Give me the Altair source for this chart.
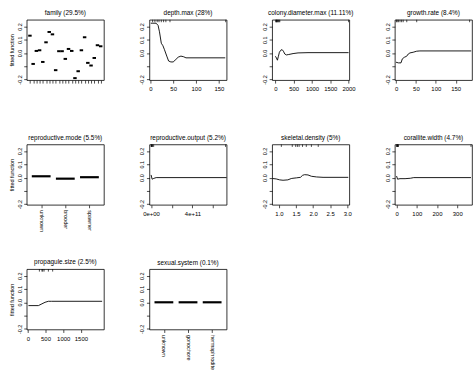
import altair as alt
import pandas as pd

FONT = "Liberation Sans"
W, H = 78, 61
YDOM = [-0.205, 0.25]
Y_TICKS = [-0.2, -0.1, 0.0, 0.1, 0.2]

# ---- data ----
family_levels = [f"family {i}" for i in range(1, 24)]
family_fit = [0.13, -0.083, 0.015, 0.02, -0.068, 0.08, 0.158, 0.14, -0.13, 0.013,
              0.013, -0.045, 0.03, 0.015, -0.19, -0.138, 0.02, 0.118, -0.075, -0.095,
              -0.038, 0.058, 0.05]

depth_x = [1, 4, 12.7, 17, 20, 24, 27.6, 31, 36, 40, 45, 50, 56, 61, 67, 73, 78, 164]
depth_y = [0.224, 0.224, 0.224, 0.207, 0.159, 0.073, 0.054, 0.024, -0.024, -0.061,
           -0.068, -0.068, -0.049, -0.032, -0.024, -0.029, -0.037, -0.037]
depth_rug = [5, 10, 15, 19, 24, 29, 34, 43, 165]

colony_x = [0, 27, 55, 82, 109, 145, 182, 218, 255, 300, 364, 482, 618, 891, 2000]
colony_y = [-0.025, -0.038, -0.055, -0.025, 0.005, 0.02, 0.025, 0.013, -0.008, -0.015,
            -0.012, -0.005, 0.0, 0.002, 0.002]
colony_rug = [10, 20, 30, 45, 60, 80, 100, 120, 2000]

growth_x = [0, 5.8, 12.5, 15.8, 20.8, 26.7, 30.8, 35, 43, 52, 60, 189]
growth_y = [-0.07, -0.075, -0.075, -0.045, -0.033, -0.025, -0.008, 0.0, 0.005, 0.013,
            0.015, 0.015]
growth_rug = [1, 3, 6, 10, 14, 18, 27, 52, 185]

mode_levels = ["unknown", "brooder", "spawner"]
mode_fit = [0.01, -0.008, 0.003]

output_x = [0, 1e10, 2.6e10, 4.9e10, 7.3e11]
output_y = [0.02, -0.012, -0.006, 0.0, 0.0]
output_rug = [1e9, 3e9, 6e9, 1e10, 1.5e10, 2.5e10, 7.2e11]

skel_x = [0.82, 0.92, 1.02, 1.12, 1.26, 1.36, 1.41, 1.51, 1.63, 1.69, 1.75, 1.85, 1.95,
          2.10, 2.29, 3.03]
skel_y = [-0.007, -0.01, -0.017, -0.02, -0.017, -0.007, -0.005, -0.002, 0.002, 0.017,
          0.022, 0.02, 0.01, 0.005, 0.002, 0.002]
skel_rug = [1.07, 1.39, 1.49, 1.54, 1.59, 1.69, 1.80, 1.95, 2.15]

coral_x = [0, 5, 17, 42, 68, 85, 368]
coral_y = [0.012, -0.012, -0.008, -0.008, -0.005, 0.0, 0.0]
coral_rug = [1, 2, 3, 5, 7, 9, 368]

prop_x = [19, 300, 375, 488, 582, 675, 2100]
prop_y = [-0.025, -0.025, -0.015, 0.0, 0.0075, 0.0075, 0.0075]
prop_rug = [328, 400, 422, 460, 582, 703]

sex_levels = ["unknown", "gonochore", "hermaphrodite"]
sex_fit = [0.0, 0.0, 0.0]


def y_enc(title):
    return alt.Y(
        "y:Q",
        scale=alt.Scale(domain=YDOM, nice=False, zero=False),
        axis=alt.Axis(
            values=Y_TICKS,
            labelExpr="datum.value > -0.15 && datum.value < -0.05 ? '' : replace(format(datum.value, '.1f'), '\u2212', '-')",
            labelAngle=270,
            labelOverlap=False,
            labelPadding=1.5,
            title=title if title else None,
        ),
    )


def ttl(text):
    return alt.TitleParams(text, fontSize=6.5, font=FONT, fontWeight="normal",
                           offset=3, color="black")


def cont_panel(title, xs, ys, rug, xdom, xticks, fmt=None, label_expr=None, ytitle=None):
    df = pd.DataFrame({"x": xs, "y": ys})
    if label_expr is None:
        label_expr = "format(datum.value, '%s')" % fmt
    xaxis = alt.Axis(values=xticks, labelOverlap=False, labelFlush=False,
                     labelExpr=label_expr, labelAngle=0, labelPadding=3,
                     labelFontSize=6)
    xscale = alt.Scale(domain=xdom, nice=False, zero=False)
    line = alt.Chart(df).mark_line(color="black", strokeWidth=0.9).encode(
        x=alt.X("x:Q", scale=xscale, axis=xaxis, title=None), y=y_enc(ytitle))
    rugc = alt.Chart(pd.DataFrame({"x": rug})).mark_rule(
        color="black", strokeWidth=0.7).encode(
        x=alt.X("x:Q", scale=xscale, axis=xaxis, title=None),
        y=alt.value(0), y2=alt.value(2.5))
    return alt.layer(line, rugc).properties(width=W, height=H, title=ttl(title))


def cat_panel(title, levels, vals, size, thick, padding, labels=True, ytitle=None):
    df = pd.DataFrame({"x": levels, "y": vals})
    return alt.Chart(df).mark_tick(color="black", size=size, thickness=thick,
                                   opacity=1).encode(
        x=alt.X("x:N", sort=levels,
                scale=alt.Scale(type="point", padding=padding),
                axis=alt.Axis(labelAngle=90, labels=labels, labelOverlap=False,
                              labelPadding=2, title=None)),
        y=y_enc(ytitle),
    ).properties(width=W, height=H, title=ttl(title))


panels = [
    cat_panel("family (29.5%)", family_levels, family_fit, 3.5, 2, 1.7,
              labels=False, ytitle="fitted function"),
    cont_panel("depth.max  (28%)", depth_x, depth_y, depth_rug, [-2, 167],
               [0, 50, 100, 150], fmt="d"),
    cont_panel("colony.diameter.max  (11.11%)", colony_x, colony_y, colony_rug,
               [-90, 2020], [0, 500, 1000, 1500, 2000], fmt="d"),
    cont_panel("growth.rate (8.4%)", growth_x, growth_y, growth_rug, [-3, 191],
               [0, 50, 100, 150], fmt="d"),
    cat_panel("reproductive.mode (5.5%)", mode_levels, mode_fit, 19, 2.2, 0.6,
              ytitle="fitted function"),
    cont_panel("reproductive.output (5.2%)", output_x, output_y, output_rug,
               [-1.6e10, 7.3e11], [0, 2e11, 4e11, 6e11],
               label_expr="datum.value == 0 ? '0e+00' : (datum.value == 4e11 ? '4e+11' : '')"),
    cont_panel("skeletal.density (5%)", skel_x, skel_y, skel_rug, [0.8, 3.06],
               [1.0, 1.5, 2.0, 2.5, 3.0], fmt=".1f"),
    cont_panel("corallite.width (4.7%)", coral_x, coral_y, coral_rug, [-8.5, 373],
               [0, 100, 200, 300], fmt="d"),
    cont_panel("propagule.size (2.5%)", prop_x, prop_y, prop_rug, [-30, 2150],
               [0, 500, 1000, 1500], fmt="d", ytitle="fitted function"),
    cat_panel("sexual.system (0.1%)", sex_levels, sex_fit, 19, 2.2, 0.6),
]

chart = alt.concat(*panels, columns=4, spacing=alt.RowColnumber(row=65, column=46),
                   bounds="flush").properties(
    padding={"left": 9, "top": 7, "right": 0, "bottom": 0}
).configure_view(
    stroke="black", strokeWidth=0.8
).configure_axis(
    labelFont=FONT, labelFontSize=5.5, labelColor="black",
    titleFont=FONT, titleFontSize=5.5, titleFontWeight="normal", titleColor="black",
    titlePadding=3,
    domain=False, grid=False, ticks=True, tickSize=3, tickColor="black", tickWidth=0.7,
    labelFlush=False, labelOverlap=False,
).configure_title(font=FONT)

chart.save("out.html", embed_options={"renderer": "svg", "actions": False})
